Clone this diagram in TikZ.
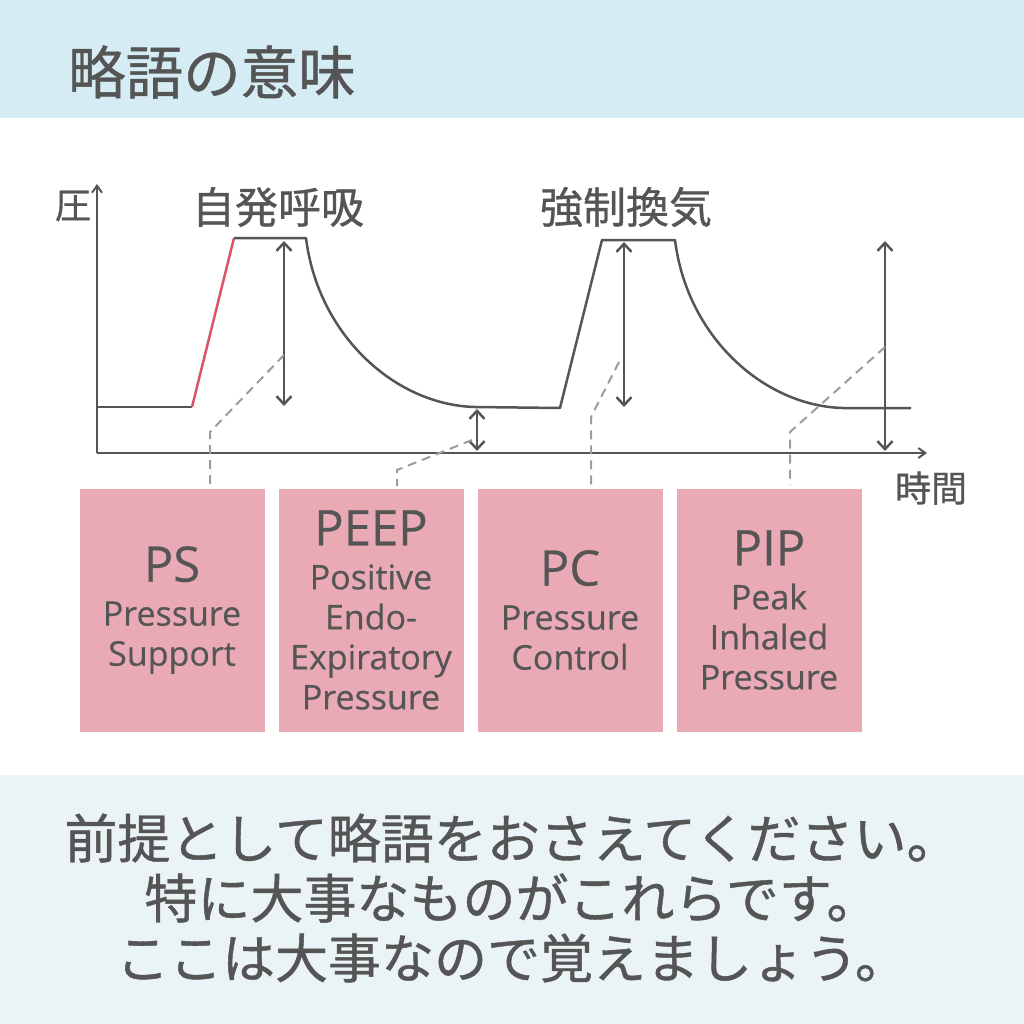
\documentclass[tikz,border=0pt]{standalone}
\usepackage{fontspec}
\setmainfont[FakeBold=0.4]{Open Sans}
\newfontfamily\jp[FakeBold=0.8]{Noto Sans CJK JP}
\usetikzlibrary{arrows.meta}
\definecolor{ink}{HTML}{555555}
\definecolor{topband}{HTML}{D6ECF5}
\definecolor{footband}{HTML}{EAF3F5}
\definecolor{boxpink}{HTML}{E9AAB5}
\definecolor{rampred}{HTML}{D9546C}
\definecolor{guidegray}{HTML}{9C9C9C}
\tikzset{jtext/.style = {text=ink, inner sep=0pt, font=\jp\fontsize{#1}{#1}\selectfont},
  curve/.style = {ink, line width=2.5pt, line join=round},
  axis/.style = {ink, line width=2.5pt, -{Straight Barb[length=7pt,width=10pt,line width=2pt]}},
  dimarrow/.style = {ink, line width=2.5pt,
    {Straight Barb[length=8pt,width=15pt]}-{Straight Barb[length=8pt,width=15pt]}},
  guide/.style = {guidegray, line width=2pt, dash pattern=on 9pt off 6pt},
  abbrev/.style = {fill=boxpink, minimum width=185pt, minimum height=243pt, inner sep=0pt,
    text=ink, align=center, font=\fontsize{34}{40}\selectfont}}
\newcommand{\abbr}[1]{{\fontsize{49}{50}\selectfont #1}}

\begin{document}
\begin{tikzpicture}[x=1pt, y=-1pt]
        \useasboundingbox (0,0) rectangle (1024,1024);
        \fill[topband] (0,0) rectangle (1024,118);
        \fill[footband] (0,775) rectangle (1024,1024);
        \node[jtext=57.5, anchor=west] (title) at (68,72) {略語の意味};

        % axes
        \coordinate (origin) at (97,453);
        \coordinate (ytop) at (97,184);
        \coordinate (xend) at (927,453);
        \draw[axis] (origin) -- (ytop);
        \draw[axis] (origin) -- (xend);
        \node[jtext=36] (ylabel) at (73,206) {圧};
        \node[jtext=36] (xlabel) at (931,488) {時間};

        % pressure curve
        \draw[curve] (97,407) -- (192,407);
        \draw[curve, rampred] (192,407) -- (234,238);
        \draw[curve] (234,238) -- (306,238)
          .. controls (318,335) and (395,405) .. (475,407) -- (560,408)
          -- (602,240) -- (675,240)
          .. controls (687,337) and (764,406) .. (843,408) -- (911,408);
        \node[jtext=43] (spont) at (278,207) {自発呼吸};
        \node[jtext=43] (forced) at (626,207) {強制換気};

        % dimension arrows
        \coordinate (ps-top) at (284,241);
        \coordinate (ps-bot) at (284,406);
        \coordinate (peep-top) at (477,409);
        \coordinate (peep-bot) at (477,451);
        \coordinate (pc-top) at (624,242);
        \coordinate (pc-bot) at (624,407);
        \coordinate (pip-top) at (885,241);
        \coordinate (pip-bot) at (885,451);
        \draw[dimarrow] (ps-top) -- (ps-bot);
        \draw[dimarrow] (peep-top) -- (peep-bot);
        \draw[dimarrow] (pc-top) -- (pc-bot);
        \draw[dimarrow] (pip-top) -- (pip-bot);

        % abbreviation boxes
        \node[abbrev] (ps) at (172,610) {\abbr{PS}\\[4pt]Pressure\\Support};
        \node[abbrev] (peep) at (371,610) {\abbr{PEEP}\\[4pt]Positive\\Endo-\\Expiratory\\Pressure};
        \node[abbrev] (pc) at (570,610) {\abbr{PC}\\[4pt]Pressure\\Control};
        \node[abbrev] (pip) at (769,610) {\abbr{PIP}\\[4pt]Peak\\Inhaled\\Pressure};

        % guides
        \coordinate (ps-mid) at (284,355);
        \coordinate (ps-bend) at (210,432);
        \coordinate (ps-end) at (210,486);
        \coordinate (peep-mid) at (472,440);
        \coordinate (peep-bend) at (397,470);
        \coordinate (peep-end) at (397,486);
        \coordinate (pc-mid) at (619,362);
        \coordinate (pc-bend) at (591,417);
        \coordinate (pc-end) at (591,488);
        \coordinate (pip-mid) at (885,347);
        \coordinate (pip-bend) at (790,432);
        \coordinate (pip-end) at (790,485);
        \draw[guide] (ps-mid) -- (ps-bend) -- (ps-end);
        \draw[guide] (peep-mid) -- (peep-bend) -- (peep-end);
        \draw[guide] (pc-mid) -- (pc-bend) -- (pc-end);
        \draw[guide] (pip-mid) -- (pip-bend) -- (pip-end);

        % footer
        \node[jtext=53] (line1) at (512,838) {前提として略語をおさえてください。};
        \node[jtext=53] (line2) at (512,898) {特に大事なものがこれらです。};
        \node[jtext=53] (line3) at (512,958) {ここは大事なので覚えましょう。};
\end{tikzpicture}
\end{document}
